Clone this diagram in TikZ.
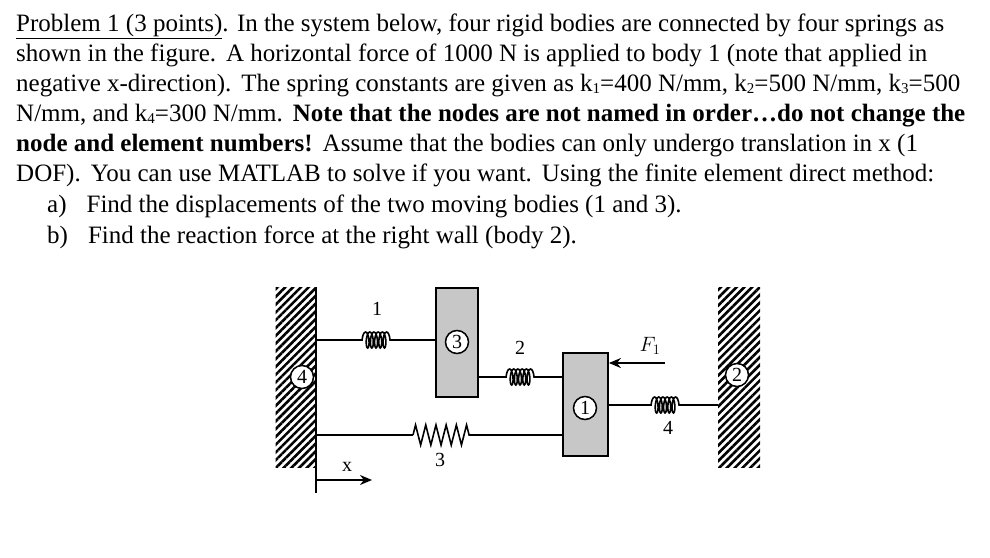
\documentclass[tikz,border=0pt]{standalone}
\usepackage{fontspec}
\setmainfont{Liberation Serif}
\usetikzlibrary{patterns.meta,decorations.pathmorphing,arrows.meta}
\newcommand{\subnum}[1]{\raisebox{-2.5pt}{\fontsize{15}{15}\selectfont #1}}
\begin{document}
\begin{tikzpicture}[x=1pt,y=-1pt,
  txt/.style={anchor=base west,inner sep=0pt,font=\fontsize{25}{30}\selectfont},
  wall/.style={draw=none,pattern={Lines[angle=45,distance=5.5pt,line width=2.6pt]},inner sep=0pt},
  body/.style={draw,line width=1.8pt,fill=black!22,inner sep=0pt},
  num/.style={circle,draw,fill=white,line width=1.5pt,inner sep=0pt,minimum size=23pt,font=\fontsize{20}{20}\selectfont},
  lbl/.style={inner sep=0pt,font=\fontsize{20}{20}\selectfont},
  wire/.style={line width=1.6pt},
  coilspr/.style={wire,decorate,decoration={coil,aspect=0.3,amplitude=8pt,segment length=4.2pt,pre length=0.1pt,post length=0.1pt}},
  zigspr/.style={wire,decorate,decoration={zigzag,amplitude=10pt,segment length=10.2pt}}]
\useasboundingbox (0,0) rectangle (990,557);
\node[txt] (l1) at (16,31) {\underline{Problem 1 (3 points)}. In the system below, four rigid bodies are connected by four springs as};
\node[txt] (l2) at (16,61) {shown in the figure.\hspace{0.4em}A horizontal force of 1000 N is applied to body 1 (note that applied in};
\node[txt] (l3) at (16,91) {negative x-direction).\hspace{0.4em}The spring constants are given as k\subnum{1}=400 N/mm, k\subnum{2}=500 N/mm, k\subnum{3}=500};
\node[txt] (l4) at (16,121) {N/mm, and k\subnum{4}=300 N/mm.\hspace{0.4em}\textbf{Note that the nodes are not named in order\dots do not change the}};
\node[txt] (l5) at (16,151) {\textbf{node and element numbers!}\hspace{0.4em}Assume that the bodies can only undergo translation in x (1};
\node[txt] (l6) at (16,181) {DOF).\hspace{0.4em}You can use MATLAB to solve if you want.\hspace{0.4em}Using the finite element direct method:};
\node[txt] (l7) at (47,212) {a)\hspace{0.8em}Find the displacements of the two moving bodies (1 and 3).};
\node[txt] (l8) at (47,243) {b)\hspace{0.8em}Find the reaction force at the right wall (body 2).};
% walls
\node[wall,minimum width=41pt,minimum height=180pt] (wl) at (296,377) {};
\node[wall,minimum width=42pt,minimum height=180pt] (wr) at (739,377) {};
\draw[wire] (316,287) -- (316,493);
\node[num] (n4) at (302,377) {4};
\node[num] (n2) at (737,375) {2};
% bodies
\node[body,minimum width=42pt,minimum height=109pt] (b3) at (457,342.5) {};
\node[num] (n3) at (457,342) {3};
\node[body,minimum width=45pt,minimum height=103pt] (b1) at (585.5,404.5) {};
\node[num] (n1) at (585,408) {1};
% spring 1
\coordinate (s1a) at (362,340); \coordinate (s1b) at (392,340);
\draw[wire] (316,340) -- (s1a); \draw[coilspr] (s1a) -- (s1b); \draw[wire] (s1b) -- (b3.west|-s1b);
\node[lbl] (t1) at (377,309) {1};
% spring 2
\coordinate (s2a) at (506,377); \coordinate (s2b) at (537,377);
\draw[wire] (b3.east|-s2a) -- (s2a); \draw[coilspr] (s2a) -- (s2b); \draw[wire] (s2b) -- (b1.west|-s2b);
\node[lbl] (t2) at (520,348) {2};
% spring 4
\coordinate (s4a) at (651,405); \coordinate (s4b) at (683,405);
\draw[wire] (b1.east|-s4a) -- (s4a); \draw[coilspr] (s4a) -- (s4b); \draw[wire] (s4b) -- (wr.west|-s4b);
\node[lbl] (t4) at (668,428) {4};
% spring 3
\coordinate (s3a) at (413,435); \coordinate (s3b) at (474,435);
\draw[wire] (316,435) -- (s3a); \draw[zigspr] (s3a) -- (s3b); \draw[wire] (s3b) -- (b1.west|-s3b);
\node[lbl] (t3) at (440,460) {3};
% force
\coordinate (f0) at (665,363);
\draw[wire,-{Stealth[length=12pt,width=10pt]}] (f0) -- (b1.east|-f0);
\node[lbl] (tf) at (650,346) {$F_1$};
% x axis
\coordinate (x0) at (316,480); \coordinate (x1) at (372,480);
\draw[wire,-{Stealth[length=12pt,width=10pt]}] (x0) -- (x1);
\node[lbl] (tx) at (347,467) {x};
\end{tikzpicture}
\end{document}
